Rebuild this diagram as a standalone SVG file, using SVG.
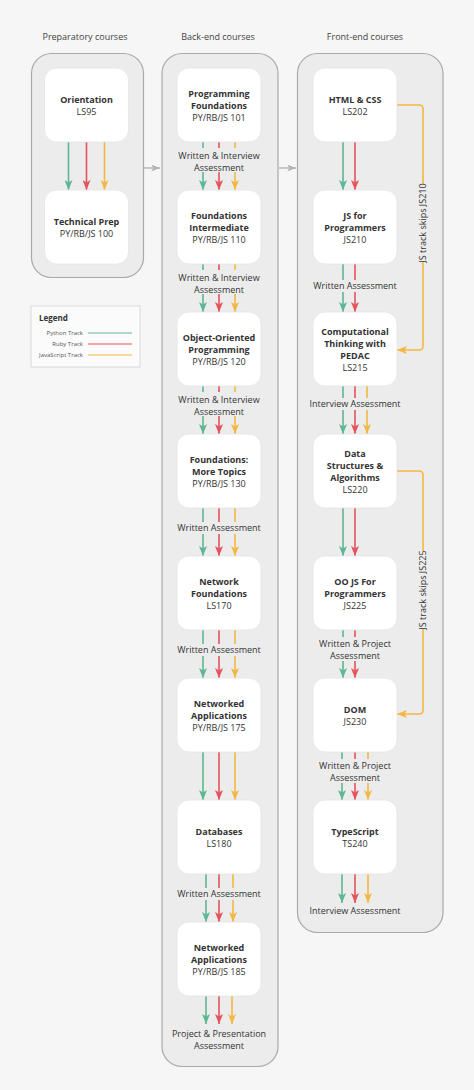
<svg xmlns="http://www.w3.org/2000/svg" width="474" height="1090" viewBox="0 0 474 1090">
<defs>
<style>
text{font-family:"Open Sans","Noto Sans","Liberation Sans",sans-serif;fill:#333;font-size:9px;text-anchor:middle}
.b{font-weight:bold}
.title{font-size:9px;fill:#444}
.cont{fill:#ececec;stroke:#a9a9a9;stroke-width:1.2}
.node rect{fill:#fff;stroke:#e4e4e4;stroke-width:0.8}
.g{stroke:#5db694;stroke-width:1.6;fill:none}
.r{stroke:#e5535c;stroke-width:1.6;fill:none}
.y{stroke:#f3b843;stroke-width:1.6;fill:none}
.gr{stroke:#b3b3b3;stroke-width:1.4;fill:none}
.lbg{fill:#ececec}
.leg{font-size:6px;text-anchor:end;fill:#555}
</style>
<marker id="ag" viewBox="0 0 10 8" refX="10" refY="4" markerWidth="10" markerHeight="8" markerUnits="userSpaceOnUse" orient="auto"><path d="M0,0 L10,4 L0,8 L2.5,4 z" fill="#5db694"/></marker>
<marker id="ar" viewBox="0 0 10 8" refX="10" refY="4" markerWidth="10" markerHeight="8" markerUnits="userSpaceOnUse" orient="auto"><path d="M0,0 L10,4 L0,8 L2.5,4 z" fill="#e5535c"/></marker>
<marker id="ay" viewBox="0 0 10 8" refX="10" refY="4" markerWidth="10" markerHeight="8" markerUnits="userSpaceOnUse" orient="auto"><path d="M0,0 L10,4 L0,8 L2.5,4 z" fill="#f3b843"/></marker>
<marker id="agr" viewBox="0 0 10 8" refX="10" refY="4" markerWidth="9" markerHeight="7" markerUnits="userSpaceOnUse" orient="auto"><path d="M0,0 L10,4 L0,8 L2.5,4 z" fill="#b3b3b3"/></marker>
</defs>
<rect width="474" height="1090" fill="#f6f6f6"/>

<g id="containers">
<text class="title" x="85" y="40">Preparatory courses</text>
<text class="title" x="218" y="40">Back-end courses</text>
<text class="title" x="365" y="40">Front-end courses</text>
<rect class="cont" x="31.5" y="53.5" width="112" height="224" rx="20"/>
<rect class="cont" x="162" y="53.5" width="116" height="1013" rx="20"/>
<rect class="cont" x="297.5" y="53.5" width="145.5" height="879" rx="20"/>
</g>

<g id="legend">
<rect x="31" y="306" width="109" height="61" fill="#fbfbfb" stroke="#d2d2d2" stroke-width="0.8"/>
<text x="39" y="321" class="b" style="font-size:8px;text-anchor:start">Legend</text>
<text class="leg" x="83" y="335">Python Track</text>
<text class="leg" x="83" y="346">Ruby Track</text>
<text class="leg" x="83" y="357">JavaScript Track</text>
<line x1="88" y1="333" x2="132" y2="333" stroke="#5db694" stroke-width="1"/>
<line x1="88" y1="344" x2="132" y2="344" stroke="#e5535c" stroke-width="1"/>
<line x1="88" y1="355" x2="132" y2="355" stroke="#f3b843" stroke-width="1"/>
</g>

<g id="connectors">
<line class="gr" x1="144" y1="168" x2="160" y2="168" marker-end="url(#agr)"/>
<line class="gr" x1="279" y1="168" x2="296" y2="168" marker-end="url(#agr)"/>

<line class="g" x1="68.5" y1="142" x2="68.5" y2="190" marker-end="url(#ag)"/>
<line class="r" x1="86.5" y1="142" x2="86.5" y2="190" marker-end="url(#ar)"/>
<line class="y" x1="104.5" y1="142" x2="104.5" y2="190" marker-end="url(#ay)"/>

<g>
<line class="g" x1="203" y1="142" x2="203" y2="190" marker-end="url(#ag)"/>
<line class="r" x1="219" y1="142" x2="219" y2="190" marker-end="url(#ar)"/>
<line class="y" x1="235" y1="142" x2="235" y2="190" marker-end="url(#ay)"/>
<rect class="lbg" x="177" y="148" width="84" height="24"/>
<text x="219" y="159">Written &amp; Interview</text>
<text x="219" y="171">Assessment</text>
</g>
<g>
<line class="g" x1="203" y1="264" x2="203" y2="312" marker-end="url(#ag)"/>
<line class="r" x1="219" y1="264" x2="219" y2="312" marker-end="url(#ar)"/>
<line class="y" x1="235" y1="264" x2="235" y2="312" marker-end="url(#ay)"/>
<rect class="lbg" x="177" y="270" width="84" height="24"/>
<text x="219" y="281">Written &amp; Interview</text>
<text x="219" y="293">Assessment</text>
</g>
<g>
<line class="g" x1="203" y1="386" x2="203" y2="434" marker-end="url(#ag)"/>
<line class="r" x1="219" y1="386" x2="219" y2="434" marker-end="url(#ar)"/>
<line class="y" x1="235" y1="386" x2="235" y2="434" marker-end="url(#ay)"/>
<rect class="lbg" x="177" y="392" width="84" height="24"/>
<text x="219" y="403">Written &amp; Interview</text>
<text x="219" y="415">Assessment</text>
</g>
<g>
<line class="g" x1="203" y1="508" x2="203" y2="556" marker-end="url(#ag)"/>
<line class="r" x1="219" y1="508" x2="219" y2="556" marker-end="url(#ar)"/>
<line class="y" x1="235" y1="508" x2="235" y2="556" marker-end="url(#ay)"/>
<rect class="lbg" x="178" y="522" width="82" height="12"/>
<text x="219" y="531">Written Assessment</text>
</g>
<g>
<line class="g" x1="203" y1="630" x2="203" y2="678" marker-end="url(#ag)"/>
<line class="r" x1="219" y1="630" x2="219" y2="678" marker-end="url(#ar)"/>
<line class="y" x1="235" y1="630" x2="235" y2="678" marker-end="url(#ay)"/>
<rect class="lbg" x="178" y="644" width="82" height="12"/>
<text x="219" y="653">Written Assessment</text>
</g>
<g>
<line class="g" x1="203" y1="752" x2="203" y2="800" marker-end="url(#ag)"/>
<line class="r" x1="219" y1="752" x2="219" y2="800" marker-end="url(#ar)"/>
<line class="y" x1="235" y1="752" x2="235" y2="800" marker-end="url(#ay)"/>
</g>
<g>
<line class="g" x1="206" y1="874" x2="206" y2="922" marker-end="url(#ag)"/>
<line class="r" x1="219" y1="874" x2="219" y2="922" marker-end="url(#ar)"/>
<line class="y" x1="233" y1="874" x2="233" y2="922" marker-end="url(#ay)"/>
<rect class="lbg" x="178" y="888" width="82" height="12"/>
<text x="219" y="897">Written Assessment</text>
</g>
<g>
<line class="g" x1="206" y1="996" x2="206" y2="1024" marker-end="url(#ag)"/>
<line class="r" x1="219" y1="996" x2="219" y2="1024" marker-end="url(#ar)"/>
<line class="y" x1="232" y1="996" x2="232" y2="1024" marker-end="url(#ay)"/>
<text x="219" y="1037">Project &amp; Presentation</text>
<text x="219" y="1049">Assessment</text>
</g>

<g>
<line class="g" x1="343" y1="142" x2="343" y2="190" marker-end="url(#ag)"/>
<line class="r" x1="355" y1="142" x2="355" y2="190" marker-end="url(#ar)"/>
</g>
<g>
<line class="g" x1="343" y1="264" x2="343" y2="312" marker-end="url(#ag)"/>
<line class="r" x1="355" y1="264" x2="355" y2="312" marker-end="url(#ar)"/>
<rect class="lbg" x="314" y="280" width="82" height="12"/>
<text x="355" y="289">Written Assessment</text>
</g>
<g>
<line class="g" x1="343" y1="386" x2="343" y2="434" marker-end="url(#ag)"/>
<line class="r" x1="355" y1="386" x2="355" y2="434" marker-end="url(#ar)"/>
<line class="y" x1="367" y1="386" x2="367" y2="434" marker-end="url(#ay)"/>
<rect class="lbg" x="310" y="398" width="90" height="12"/>
<text x="355" y="407">Interview Assessment</text>
</g>
<g>
<line class="g" x1="343" y1="508" x2="343" y2="556" marker-end="url(#ag)"/>
<line class="r" x1="355" y1="508" x2="355" y2="556" marker-end="url(#ar)"/>
</g>
<g>
<line class="g" x1="343" y1="630" x2="343" y2="678" marker-end="url(#ag)"/>
<line class="r" x1="355" y1="630" x2="355" y2="678" marker-end="url(#ar)"/>
<rect class="lbg" x="318" y="637" width="74" height="24"/>
<text x="355" y="647">Written &amp; Project</text>
<text x="355" y="659">Assessment</text>
</g>
<g>
<line class="g" x1="342" y1="752" x2="342" y2="800" marker-end="url(#ag)"/>
<line class="r" x1="355" y1="752" x2="355" y2="800" marker-end="url(#ar)"/>
<line class="y" x1="368" y1="752" x2="368" y2="800" marker-end="url(#ay)"/>
<rect class="lbg" x="318" y="759" width="74" height="24"/>
<text x="355" y="769">Written &amp; Project</text>
<text x="355" y="781">Assessment</text>
</g>
<g>
<line class="g" x1="342" y1="874" x2="342" y2="903" marker-end="url(#ag)"/>
<line class="r" x1="355" y1="874" x2="355" y2="903" marker-end="url(#ar)"/>
<line class="y" x1="368" y1="874" x2="368" y2="903" marker-end="url(#ay)"/>
<text x="355" y="914">Interview Assessment</text>
</g>

<g>
<path class="y" d="M397,105 H419 Q423,105 423,109 V346 Q423,350 419,350 H397" marker-end="url(#ay)"/>
<rect class="lbg" x="417" y="184" width="12" height="78"/>
<text transform="translate(426,223) rotate(-90)">JS track skips JS210</text>
</g>
<g>
<path class="y" d="M397,471 H419 Q423,471 423,475 V710 Q423,714 419,714 H397" marker-end="url(#ay)"/>
<rect class="lbg" x="417" y="551" width="12" height="78"/>
<text transform="translate(426,590) rotate(-90)">JS track skips JS225</text>
</g>
</g>

<g id="prep1" class="node"><rect x="44.5" y="68" width="84" height="74" rx="12"/><text class="b" x="86.5" y="103">Orientation</text><text x="86.5" y="115">LS95</text></g>
<g id="prep2" class="node"><rect x="44.5" y="190" width="84" height="74" rx="12"/><text class="b" x="86.5" y="225">Technical Prep</text><text x="86.5" y="237">PY/RB/JS 100</text></g>

<g id="be1" class="node"><rect x="177" y="68" width="84" height="74" rx="12"/><text class="b" x="219" y="97">Programming</text><text class="b" x="219" y="109">Foundations</text><text x="219" y="121">PY/RB/JS 101</text></g>
<g id="be2" class="node"><rect x="177" y="190" width="84" height="74" rx="12"/><text class="b" x="219" y="219">Foundations</text><text class="b" x="219" y="231">Intermediate</text><text x="219" y="243">PY/RB/JS 110</text></g>
<g id="be3" class="node"><rect x="177" y="312" width="84" height="74" rx="12"/><text class="b" x="219" y="341">Object-Oriented</text><text class="b" x="219" y="353">Programming</text><text x="219" y="365">PY/RB/JS 120</text></g>
<g id="be4" class="node"><rect x="177" y="434" width="84" height="74" rx="12"/><text class="b" x="219" y="463">Foundations:</text><text class="b" x="219" y="475">More Topics</text><text x="219" y="487">PY/RB/JS 130</text></g>
<g id="be5" class="node"><rect x="177" y="556" width="84" height="74" rx="12"/><text class="b" x="219" y="585">Network</text><text class="b" x="219" y="597">Foundations</text><text x="219" y="609">LS170</text></g>
<g id="be6" class="node"><rect x="177" y="678" width="84" height="74" rx="12"/><text class="b" x="219" y="707">Networked</text><text class="b" x="219" y="719">Applications</text><text x="219" y="731">PY/RB/JS 175</text></g>
<g id="be7" class="node"><rect x="177" y="800" width="84" height="74" rx="12"/><text class="b" x="219" y="835">Databases</text><text x="219" y="847">LS180</text></g>
<g id="be8" class="node"><rect x="177" y="922" width="84" height="74" rx="12"/><text class="b" x="219" y="951">Networked</text><text class="b" x="219" y="963">Applications</text><text x="219" y="975">PY/RB/JS 185</text></g>

<g id="fe1" class="node"><rect x="313" y="68" width="84" height="74" rx="12"/><text class="b" x="355" y="103">HTML &amp; CSS</text><text x="355" y="115">LS202</text></g>
<g id="fe2" class="node"><rect x="313" y="190" width="84" height="74" rx="12"/><text class="b" x="355" y="219">JS for</text><text class="b" x="355" y="231">Programmers</text><text x="355" y="243">JS210</text></g>
<g id="fe3" class="node"><rect x="313" y="312" width="84" height="74" rx="12"/><text class="b" x="355" y="335">Computational</text><text class="b" x="355" y="347">Thinking with</text><text class="b" x="355" y="359">PEDAC</text><text x="355" y="371">LS215</text></g>
<g id="fe4" class="node"><rect x="313" y="434" width="84" height="74" rx="12"/><text class="b" x="355" y="457">Data</text><text class="b" x="355" y="469">Structures &amp;</text><text class="b" x="355" y="481">Algorithms</text><text x="355" y="493">LS220</text></g>
<g id="fe5" class="node"><rect x="313" y="556" width="84" height="74" rx="12"/><text class="b" x="355" y="585">OO JS For</text><text class="b" x="355" y="597">Programmers</text><text x="355" y="609">JS225</text></g>
<g id="fe6" class="node"><rect x="313" y="678" width="84" height="74" rx="12"/><text class="b" x="355" y="713">DOM</text><text x="355" y="725">JS230</text></g>
<g id="fe7" class="node"><rect x="313" y="800" width="84" height="74" rx="12"/><text class="b" x="355" y="835">TypeScript</text><text x="355" y="847">TS240</text></g>
</svg>
